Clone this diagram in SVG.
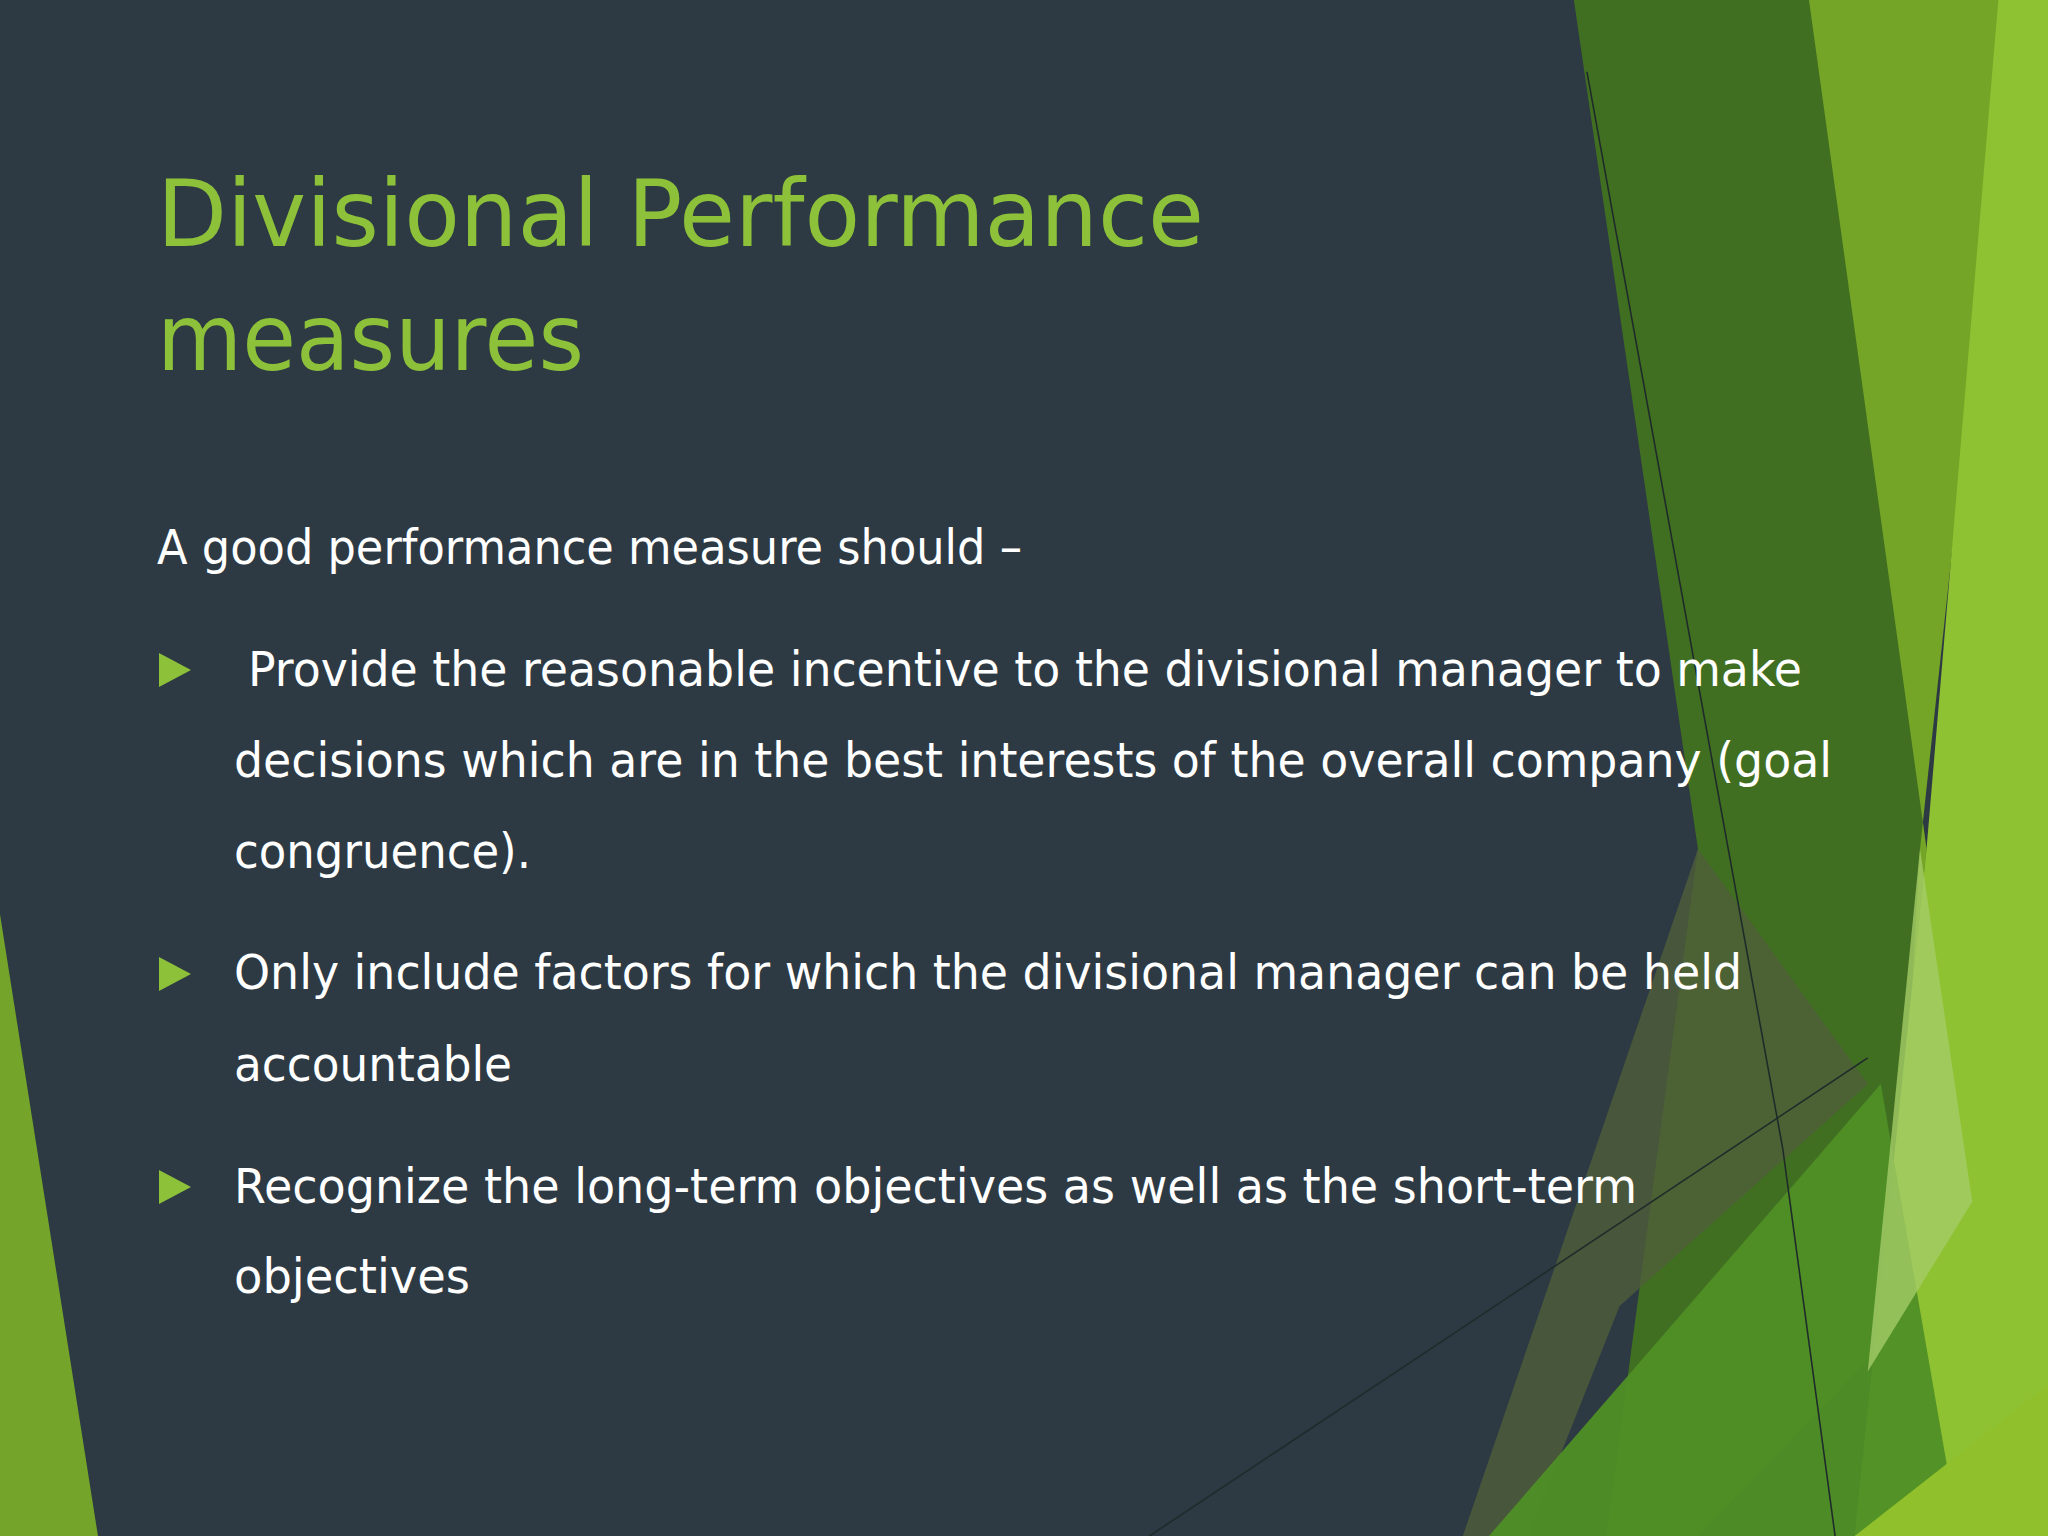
<svg xmlns="http://www.w3.org/2000/svg" width="2048" height="1536" viewBox="0 0 2048 1536">
<style>
.t{font-family:"DejaVu Sans","Liberation Sans",sans-serif;fill:#8dc13a}
.b{font-family:"DejaVu Sans","Liberation Sans",sans-serif;fill:#ffffff;font-size:48px}
.bu{fill:#8dc13a}
</style>
<rect width="2048" height="1536" fill="#2d3a43"/>
<g transform="scale(1.30612)">
<polygon points="0,700 75,1176 0,1176" fill="#74a52a"/>
<polygon points="1205,0 1390,0 1475,650 1470,1000 1300,1176 1230,1176 1300,650" fill="#416f22"/>
<polygon points="1385,0 1540,0 1470,650 1440,1176 1420,1176 1475,650" fill="#74a526"/>
<polygon points="1530,0 1568,0 1568,1176 1420,1176 1475,650" fill="#8fc232"/>
<polygon points="1300,650 1430,830 1240,1000 1170,1176 1120,1176" fill="#4f5f3a" opacity="0.8"/>
<polygon points="1140,1176 1440,830 1500,1176" fill="#4f8f26" opacity="0.95"/>
<polygon points="1470,650 1510,920 1430,1050" fill="#a4cc66" opacity="0.8"/>
<polygon points="1420,1176 1568,1060 1568,1176" fill="#90c02c"/>
<polyline points="1215,55 1365,880 1405,1176" fill="none" stroke="#1f2a2a" stroke-width="1.2"/>
<line x1="880" y1="1176" x2="1430" y2="810" stroke="#1f2a2a" stroke-width="1.2"/>
</g>
<g id="title">
<text class="t" x="157" y="246" font-size="92" textLength="1047" lengthAdjust="spacingAndGlyphs">Divisional Performance</text>
<text class="t" x="157" y="370" font-size="92" textLength="427" lengthAdjust="spacingAndGlyphs">measures</text>
</g>
<g id="body">
<text class="b" x="157" y="564" textLength="865" lengthAdjust="spacingAndGlyphs">A good performance measure should –</text>
<polygon class="bu" points="159,653 191,670 159,687"/>
<text class="b" x="248" y="686" textLength="1554" lengthAdjust="spacingAndGlyphs">Provide the reasonable incentive to the divisional manager to make</text>
<text class="b" x="234" y="777" textLength="1598" lengthAdjust="spacingAndGlyphs">decisions which are in the best interests of the overall company (goal</text>
<text class="b" x="234" y="868" textLength="297" lengthAdjust="spacingAndGlyphs">congruence).</text>
<polygon class="bu" points="159,957 191,974 159,991"/>
<text class="b" x="234" y="989" textLength="1508" lengthAdjust="spacingAndGlyphs">Only include factors for which the divisional manager can be held</text>
<text class="b" x="234" y="1081" textLength="278" lengthAdjust="spacingAndGlyphs">accountable</text>
<polygon class="bu" points="159,1170 191,1187 159,1204"/>
<text class="b" x="234" y="1203" textLength="1403" lengthAdjust="spacingAndGlyphs">Recognize the long-term objectives as well as the short-term</text>
<text class="b" x="234" y="1293" textLength="236" lengthAdjust="spacingAndGlyphs">objectives</text>
</g>
</svg>
